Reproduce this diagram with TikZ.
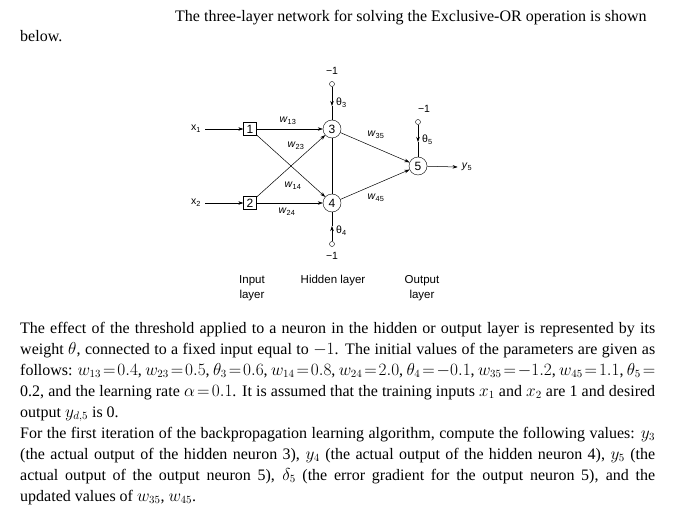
\documentclass[tikz,border=0pt]{standalone}
\usepackage{fontspec}
\setmainfont{Liberation Serif}
\newfontfamily\dsans{Liberation Sans}
\usetikzlibrary{arrows.meta}
\begin{document}
\begin{tikzpicture}[x=1pt,y=-1pt,
  txt/.style={anchor=base west,inner sep=0pt,font=\fontsize{16}{18}\selectfont},
  lab/.style={inner sep=0pt,font=\dsans\fontsize{10.5}{12}\selectfont},
  neuron/.style={draw,circle,minimum size=18pt,inner sep=0pt,font=\dsans\fontsize{12}{13}\selectfont},
  inbox/.style={draw,minimum size=13pt,inner sep=0pt,font=\dsans\fontsize{12}{13}\selectfont},
  bias/.style={draw,circle,minimum size=5pt,inner sep=0pt},
  arr/.style={-{Stealth[length=5pt,width=3.5pt]},line width=0.5pt},
  ln/.style={line width=0.5pt}]
\useasboundingbox (0,0) rectangle (677,505);
% text
\node[txt] (t0) at (175,22) {The three-layer network for solving the Exclusive-OR operation is shown};
\node[txt] (t1) at (20,42) {below.};
\node[txt] (p1) at (20,333) {\hbox to 635pt{The effect of the threshold applied to a neuron in the hidden or output layer is represented by its}};
\node[txt] (p2) at (20,354) {\hbox to 635pt{weight $\theta$, connected to a fixed input equal to $-1$. The initial values of the parameters are given as}};
\node[txt] (p3) at (20,375) {\hbox to 635pt{follows: $w_{13}\!=\!0.4$, $w_{23}\!=\!0.5$, $\theta_3\!=\!0.6$, $w_{14}\!=\!0.8$, $w_{24}\!=\!2.0$, $\theta_4\!=\!-0.1$, $w_{35}\!=\!-1.2$, $w_{45}\!=\!1.1$, $\theta_5\!=$}};
\node[txt] (p4) at (20,396) {\hbox to 635pt{0.2, and the learning rate $\alpha\!=\!0.1$. It is assumed that the training inputs $x_1$ and $x_2$ are 1 and desired}};
\node[txt] (p5) at (20,417) {output $y_{d,5}$ is 0.};
\node[txt] (p6) at (20,438) {\hbox to 635pt{For the first iteration of the backpropagation learning algorithm, compute the following values: $y_3$}};
\node[txt] (p7) at (20,459) {\hbox to 635pt{(the actual output of the hidden neuron 3), $y_4$ (the actual output of the hidden neuron 4), $y_5$ (the}};
\node[txt] (p8) at (20,480) {\hbox to 635pt{actual output of the output neuron 5), $\delta_5$ (the error gradient for the output neuron 5), and the}};
\node[txt] (p9) at (20,501) {updated values of $w_{35}$, $w_{45}$.};
% network
\node[inbox] (i1) at (250,129) {1};
\node[inbox] (i2) at (250,203) {2};
\node[neuron] (n3) at (332,129) {3};
\node[neuron] (n4) at (332,203) {4};
\node[neuron] (n5) at (418,166) {5};
\node[lab] (x1) at (196,129) {x\textsubscript{1}};
\node[lab] (x2) at (196,203) {x\textsubscript{2}};
\node[lab] (y5) at (467,167) {\textit{y}\textsubscript{5}};
\draw[arr] ([xshift=4pt]x1.east) -- (i1);
\draw[arr] ([xshift=4pt]x2.east) -- (i2);
\draw[arr] (n5) -- ([xshift=-4pt]y5.west);
\draw[arr] (i1) -- (n3);
\draw[arr] (i1) -- (n4);
\draw[arr] (i2) -- (n3);
\draw[arr] (i2) -- (n4);
\draw[arr] (n3) -- (n5);
\draw[arr] (n4) -- (n5);
\draw[ln] (n3) -- (n4);
% biases
\node[bias] (b3) at (332,84) {};
\node[lab] (m3) at (332,71) {−1};
\coordinate (a3) at (332,106);
\draw[arr] (b3) -- (a3);
\draw[ln] (a3) -- (n3);
\node[lab,anchor=west] (th3) at (336,103) {θ\textsubscript{3}};
\node[bias] (b5) at (418,122) {};
\node[lab] (m5) at (424,109) {−1};
\coordinate (a5) at (418,142);
\draw[arr] (b5) -- (a5);
\draw[ln] (a5) -- (n5);
\node[lab,anchor=west] (th5) at (422,140) {θ\textsubscript{5}};
\node[bias] (b4) at (332,244) {};
\node[lab] (m4) at (332,256) {−1};
\coordinate (a4) at (332,226);
\draw[arr] (b4) -- (a4);
\draw[ln] (a4) -- (n4);
\node[lab,anchor=west] (th4) at (336,231) {θ\textsubscript{4}};
% weights
\node[lab] (w13) at (288,121) {\textit{w}\textsubscript{13}};
\node[lab] (w23) at (296,146) {\textit{w}\textsubscript{23}};
\node[lab] (w14) at (293,186) {\textit{w}\textsubscript{14}};
\node[lab] (w24) at (287,212) {\textit{w}\textsubscript{24}};
\node[lab] (w35) at (376,135) {\textit{w}\textsubscript{35}};
\node[lab] (w45) at (376,198) {\textit{w}\textsubscript{45}};
% layer labels
\node[lab,align=center,font=\dsans\fontsize{11.5}{15}\selectfont] (L1) at (252,288) {Input\\layer};
\node[lab,font=\dsans\fontsize{11.5}{15}\selectfont] (L2) at (333,281) {Hidden layer};
\node[lab,align=center,font=\dsans\fontsize{11.5}{15}\selectfont] (L3) at (422,288) {Output\\layer};
\end{tikzpicture}
\end{document}
